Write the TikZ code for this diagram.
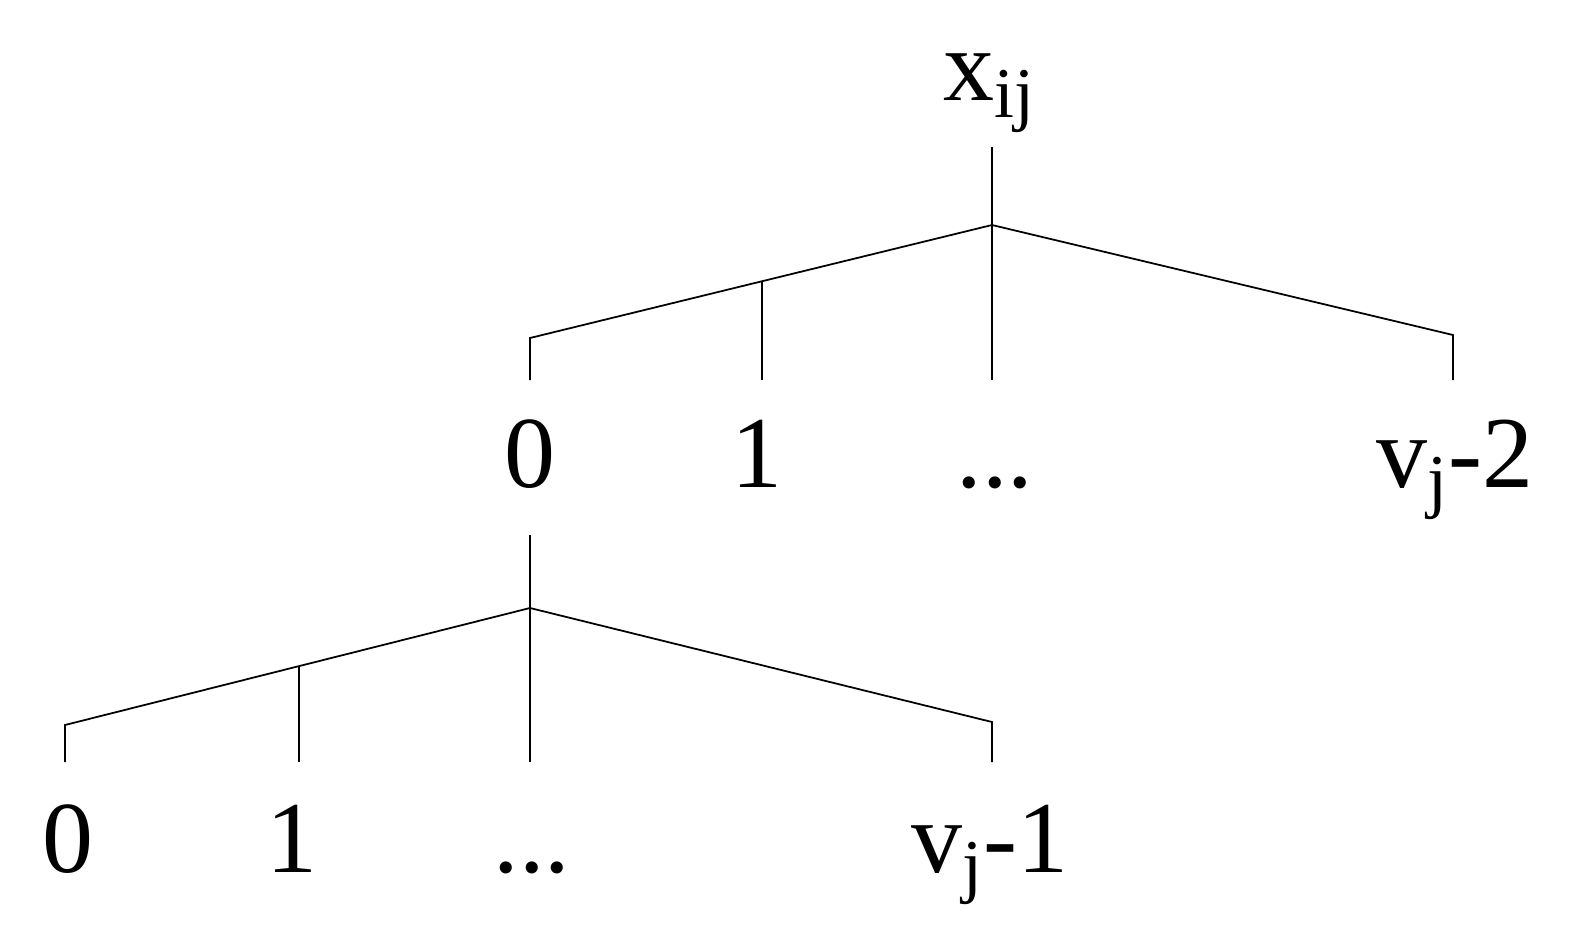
\documentclass[tikz,border=0pt]{standalone}
\usepackage{fontspec}
\setmainfont{Liberation Serif}
\begin{document}
\begin{tikzpicture}[x=0.01cm,y=-0.01cm,
  lbl/.style={font=\fontsize{29}{32}\selectfont, inner sep=0pt, anchor=base},
  ln/.style={line width=0.5pt}]
\useasboundingbox (0,0) rectangle (1590,951);
\node[lbl] (root) at (990,100) {x$_{\mathrm{ij}}$};
\coordinate (rtop) at (992,147);
\coordinate (b1) at (992,225);
\coordinate (l1) at (530,338);
\coordinate (r1) at (1453,335);
\coordinate (m1) at (762,281);
\coordinate (e0) at (530,380);
\coordinate (e1) at (762,380);
\coordinate (e2) at (992,380);
\coordinate (e3) at (1453,380);
\node[lbl] (a0) at (530,487) {0};
\node[lbl] (a1) at (757,487) {1};
\node[lbl] (a2) at (995,487) {...};
\node[lbl] (a3) at (1455,487) {v$_{\mathrm{j}}$-2};
\draw[ln] (rtop) -- (b1) -- (e2);
\draw[ln] (e0) -- (l1) -- (b1) -- (r1) -- (e3);
\draw[ln] (m1) -- (e1);
\coordinate (stop) at (530,535);
\coordinate (b2) at (530,608);
\coordinate (l2) at (65,725);
\coordinate (r2) at (992,722);
\coordinate (m2) at (299,666);
\coordinate (f0) at (65,762);
\coordinate (f1) at (299,762);
\coordinate (f2) at (530,762);
\coordinate (f3) at (992,762);
\node[lbl] (c0) at (68,872) {0};
\node[lbl] (c1) at (292,872) {1};
\node[lbl] (c2) at (532,872) {...};
\node[lbl] (c3) at (990,872) {v$_{\mathrm{j}}$-1};
\draw[ln] (stop) -- (b2) -- (f2);
\draw[ln] (f0) -- (l2) -- (b2) -- (r2) -- (f3);
\draw[ln] (m2) -- (f1);
\end{tikzpicture}
\end{document}
